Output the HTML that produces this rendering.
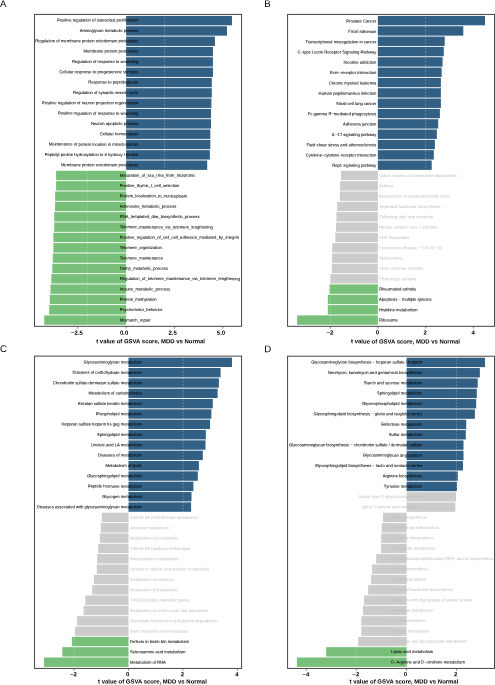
<!DOCTYPE html>
<html lang="en"><head><meta charset="utf-8"><title>GSVA bar plots</title>
<style>html,body{margin:0;padding:0;background:#fff}svg{display:block;font-family:"Liberation Sans",Arial,sans-serif}.l{font-size:4.17px;stroke-width:.05}.k{fill:#000;stroke:#000}.g{fill:#bebebe;stroke:none}.e{text-anchor:end}.t{font-size:6px;font-weight:bold;text-anchor:middle;fill:#000}.x{font-size:5.96px;font-weight:bold;fill:#000}.p{font-size:9.6px;fill:#000}.u{fill:#326085}.n{fill:#cccccc}.d{fill:#78c079}.k2{stroke:#4a4a4a;stroke-width:.7;fill:none}.f{fill:none;stroke:#3c3c3c;stroke-width:.95}.h{stroke:#fff;stroke-width:.5;stroke-dasharray:1.4 1.7;stroke-opacity:.6;fill:none}</style></head><body>
<svg width="495" height="685" viewBox="0 0 495 685">
<rect width="495" height="685" fill="#fff"/>
<g id="panel-A">
<rect class="u" x="126.10" y="15.90" width="105.86" height="9.40"/>
<rect class="u" x="126.10" y="26.23" width="100.87" height="9.40"/>
<rect class="u" x="126.10" y="36.55" width="88.80" height="9.40"/>
<rect class="u" x="126.10" y="46.88" width="86.86" height="9.40"/>
<rect class="u" x="126.10" y="57.21" width="86.86" height="9.40"/>
<rect class="u" x="126.10" y="67.54" width="86.86" height="9.40"/>
<rect class="u" x="126.10" y="77.86" width="85.70" height="9.40"/>
<rect class="u" x="126.10" y="88.19" width="85.70" height="9.40"/>
<rect class="u" x="126.10" y="98.52" width="85.30" height="9.40"/>
<rect class="u" x="126.10" y="108.85" width="84.90" height="9.40"/>
<rect class="u" x="126.10" y="119.18" width="84.90" height="9.40"/>
<rect class="u" x="126.10" y="129.50" width="84.20" height="9.40"/>
<rect class="u" x="126.10" y="139.83" width="84.20" height="9.40"/>
<rect class="u" x="126.10" y="150.16" width="83.80" height="9.40"/>
<rect class="u" x="126.10" y="160.49" width="81.10" height="9.40"/>
<rect class="d" x="56.10" y="170.81" width="70.00" height="9.40"/>
<rect class="d" x="56.10" y="181.14" width="70.00" height="9.40"/>
<rect class="d" x="55.10" y="191.47" width="71.00" height="9.40"/>
<rect class="d" x="55.10" y="201.80" width="71.00" height="9.40"/>
<rect class="d" x="54.20" y="212.13" width="71.90" height="9.40"/>
<rect class="d" x="54.20" y="222.45" width="71.90" height="9.40"/>
<rect class="d" x="53.40" y="232.78" width="72.70" height="9.40"/>
<rect class="d" x="53.40" y="243.11" width="72.70" height="9.40"/>
<rect class="d" x="52.80" y="253.44" width="73.30" height="9.40"/>
<rect class="d" x="52.30" y="263.77" width="73.80" height="9.40"/>
<rect class="d" x="51.30" y="274.09" width="74.80" height="9.40"/>
<rect class="d" x="50.50" y="284.42" width="75.60" height="9.40"/>
<rect class="d" x="49.80" y="294.75" width="76.30" height="9.40"/>
<rect class="d" x="49.20" y="305.08" width="76.90" height="9.40"/>
<rect class="d" x="44.20" y="315.40" width="81.90" height="9.40"/>
<line class="h" x1="87.30" y1="14.40" x2="87.30" y2="326.30"/>
<line class="h" x1="164.60" y1="14.40" x2="164.60" y2="326.30"/>
<g transform="matrix(1 .0005 0 1 0 -0.0690)">
<text class="l k e" x="138.30" y="21.60">Positive regulation of osteoclast proliferation</text>
<text class="l k e" x="138.30" y="31.94">Aminoglycan metabolic process</text>
<text class="l k e" x="138.30" y="42.28">Regulation of membrane protein ectodomain proteolysis</text>
<text class="l k e" x="138.30" y="52.62">Membrane protein proteolysis</text>
<text class="l k e" x="138.30" y="62.96">Regulation of response to wounding</text>
<text class="l k e" x="138.30" y="73.30">Cellular response to progesterone stimulus</text>
<text class="l k e" x="138.30" y="83.64">Response to peptidoglycan</text>
<text class="l k e" x="138.30" y="93.98">Regulation of synaptic vesicle cycle</text>
<text class="l k e" x="138.30" y="104.32">Positive regulation of neuron projection regeneration</text>
<text class="l k e" x="138.30" y="114.66">Positive regulation of response to wounding</text>
<text class="l k e" x="138.30" y="124.99">Neuron apoptotic process</text>
<text class="l k e" x="138.30" y="135.33">Cellular homeostasis</text>
<text class="l k e" x="138.30" y="145.67">Maintenance of protein location in mitochondrion</text>
<text class="l k e" x="138.30" y="156.01">Peptidyl proline hydroxylation to 4 hydroxy l proline</text>
<text class="l k e" x="138.30" y="166.35">Membrane protein ectodomain proteolysis</text>
<text class="l k" x="119.80" y="176.69">Maturation_of_ssu_rrna_from_tricistronic</text>
<text class="l k" x="119.80" y="187.03">Positive_thymic_t_cell_selection</text>
<text class="l k" x="119.80" y="197.37">Protein_localization_to_nucleoplasm</text>
<text class="l k" x="119.80" y="207.71">Adenosine_metabolic_process</text>
<text class="l k" x="119.80" y="218.05">RNA_templated_dna_biosynthetic_process</text>
<text class="l k" x="119.80" y="228.39">Telomere_maintenance_via_telomere_lengthening</text>
<text class="l k" x="119.80" y="238.73">Positive_regulation_of_cell_cell_adhesion_mediated_by_integrin</text>
<text class="l k" x="119.80" y="249.07">Telomere_organization</text>
<text class="l k" x="119.80" y="259.41">Telomere_maintenance</text>
<text class="l k" x="119.80" y="269.75">Damp_metabolic_process</text>
<text class="l k" x="119.80" y="280.09">Regulation_of_telomere_maintenance_via_telomere_lengthening</text>
<text class="l k" x="119.80" y="290.43">Inosine_metabolic_process</text>
<text class="l k" x="119.80" y="300.77">Protein_methylation</text>
<text class="l k" x="119.80" y="311.11">Psychomotor_behavior</text>
<text class="l k" x="119.80" y="321.45">Mismatch_repair</text>
</g>
<rect class="f" x="34.55" y="14.40" width="207.05" height="311.90"/>
<line class="k2" x1="77.80" y1="326.30" x2="77.80" y2="328.50"/>
<line class="k2" x1="126.20" y1="326.30" x2="126.20" y2="328.50"/>
<line class="k2" x1="174.40" y1="326.30" x2="174.40" y2="328.50"/>
<line class="k2" x1="222.70" y1="326.30" x2="222.70" y2="328.50"/>
<g transform="matrix(1 .0005 0 1 0 -0.0690)">
<text class="t" x="77.00" y="334.80">−2.5</text>
<text class="t" x="124.20" y="334.80">0.0</text>
<text class="t" x="172.70" y="334.80">2.5</text>
<text class="t" x="221.00" y="334.80">5.0</text>
<text class="x" x="96.20" y="343.30">t value of GSVA score, MDD vs Normal</text>
</g>
<text class="p" transform="matrix(1 .0005 0 1 0 0)" x="0.00" y="6.90">A</text>
</g>
<g id="panel-B">
<rect class="u" x="377.85" y="15.90" width="107.15" height="9.40"/>
<rect class="u" x="377.85" y="26.23" width="85.45" height="9.40"/>
<rect class="u" x="377.85" y="36.55" width="66.85" height="9.40"/>
<rect class="u" x="377.85" y="46.88" width="65.95" height="9.40"/>
<rect class="u" x="377.85" y="57.21" width="64.75" height="9.40"/>
<rect class="u" x="377.85" y="67.54" width="63.80" height="9.40"/>
<rect class="u" x="377.85" y="77.86" width="63.05" height="9.40"/>
<rect class="u" x="377.85" y="88.19" width="63.05" height="9.40"/>
<rect class="u" x="377.85" y="98.52" width="63.05" height="9.40"/>
<rect class="u" x="377.85" y="108.85" width="62.05" height="9.40"/>
<rect class="u" x="377.85" y="119.18" width="60.35" height="9.40"/>
<rect class="u" x="377.85" y="129.50" width="59.00" height="9.40"/>
<rect class="u" x="377.85" y="139.83" width="57.05" height="9.40"/>
<rect class="u" x="377.85" y="150.16" width="55.95" height="9.40"/>
<rect class="u" x="377.85" y="160.49" width="53.85" height="9.40"/>
<rect class="n" x="341.00" y="170.81" width="36.85" height="9.40"/>
<rect class="n" x="340.10" y="181.14" width="37.75" height="9.40"/>
<rect class="n" x="339.90" y="191.47" width="37.95" height="9.40"/>
<rect class="n" x="337.20" y="201.80" width="40.65" height="9.40"/>
<rect class="n" x="336.40" y="212.13" width="41.45" height="9.40"/>
<rect class="n" x="336.05" y="222.45" width="41.80" height="9.40"/>
<rect class="n" x="335.30" y="232.78" width="42.55" height="9.40"/>
<rect class="n" x="332.20" y="243.11" width="45.65" height="9.40"/>
<rect class="n" x="332.00" y="253.44" width="45.85" height="9.40"/>
<rect class="n" x="331.80" y="263.77" width="46.05" height="9.40"/>
<rect class="n" x="330.30" y="274.09" width="47.55" height="9.40"/>
<rect class="d" x="329.50" y="284.42" width="48.35" height="9.40"/>
<rect class="d" x="327.80" y="294.75" width="50.05" height="9.40"/>
<rect class="d" x="327.80" y="305.08" width="50.05" height="9.40"/>
<rect class="d" x="297.10" y="315.40" width="80.75" height="9.40"/>
<line class="h" x1="330.30" y1="14.40" x2="330.30" y2="326.30"/>
<line class="h" x1="425.60" y1="14.40" x2="425.60" y2="326.30"/>
<g transform="matrix(1 .0005 0 1 0 -0.1955)">
<text class="l k e" x="376.40" y="22.60">Prostate Cancer</text>
<text class="l k e" x="376.40" y="32.90">Focal adhesion</text>
<text class="l k e" x="376.40" y="43.20">Transcriptional misregulation in cancer</text>
<text class="l k e" x="376.40" y="53.51">C−type Lectin Receptor Signaling Pathway</text>
<text class="l k e" x="376.40" y="63.81">Nicotine addiction</text>
<text class="l k e" x="376.40" y="74.11">Ecm−receptor interaction</text>
<text class="l k e" x="376.40" y="84.41">Chronic myeloid leukemia</text>
<text class="l k e" x="376.40" y="94.72">Human papillomavirus infection</text>
<text class="l k e" x="376.40" y="105.02">Small cell lung cancer</text>
<text class="l k e" x="376.40" y="115.32">Fc gamma R−mediated phagocytosis</text>
<text class="l k e" x="376.40" y="125.62">Adherens junction</text>
<text class="l k e" x="376.40" y="135.93">IL−17 signaling pathway</text>
<text class="l k e" x="376.40" y="146.23">Fluid shear stress and atherosclerosis</text>
<text class="l k e" x="376.40" y="156.53">Cytokine−cytokine receptor interaction</text>
<text class="l k e" x="376.40" y="166.84">Rap1 signaling pathway</text>
<text class="l g" x="379.00" y="176.91">Valine, leucine and isoleucine degradation</text>
<text class="l g" x="379.00" y="187.24">Asthma</text>
<text class="l g" x="379.00" y="197.57">Biosynthesis of unsaturated fatty acids</text>
<text class="l g" x="379.00" y="207.90">Terpenoid backbone biosynthesis</text>
<text class="l g" x="379.00" y="218.23">Collecting duct acid secretion</text>
<text class="l g" x="379.00" y="228.55">Herpes simplex virus 1 infection</text>
<text class="l g" x="379.00" y="238.88">Viral myocarditis</text>
<text class="l g" x="379.00" y="249.21">Coronavirus disease − COVID−19</text>
<text class="l g" x="379.00" y="259.54">Spliceosome</text>
<text class="l g" x="379.00" y="269.86">Vibrio cholerae infection</text>
<text class="l g" x="379.00" y="280.19">Cholinergic synapse</text>
<text class="l k" x="379.00" y="290.52">Rheumatoid arthritis</text>
<text class="l k" x="379.00" y="300.85">Apoptosis − multiple species</text>
<text class="l k" x="379.00" y="311.18">Histidine metabolism</text>
<text class="l k" x="379.00" y="321.50">Ribosome</text>
</g>
<rect class="f" x="287.60" y="14.40" width="206.95" height="311.90"/>
<line class="k2" x1="330.30" y1="326.30" x2="330.30" y2="328.50"/>
<line class="k2" x1="378.00" y1="326.30" x2="378.00" y2="328.50"/>
<line class="k2" x1="425.70" y1="326.30" x2="425.70" y2="328.50"/>
<line class="k2" x1="473.40" y1="326.30" x2="473.40" y2="328.50"/>
<g transform="matrix(1 .0005 0 1 0 -0.1955)">
<text class="t" x="329.90" y="334.50">−2</text>
<text class="t" x="377.50" y="334.50">0</text>
<text class="t" x="425.30" y="334.50">2</text>
<text class="t" x="473.10" y="334.50">4</text>
<text class="x" x="351.10" y="343.40">t value of GSVA score, MDD vs Normal</text>
</g>
<text class="p" transform="matrix(1 .0005 0 1 0 0)" x="264.20" y="6.90">B</text>
</g>
<g id="panel-C">
<rect class="u" x="128.50" y="357.60" width="103.46" height="9.41"/>
<rect class="u" x="128.50" y="367.94" width="92.10" height="9.41"/>
<rect class="u" x="128.50" y="378.28" width="90.40" height="9.41"/>
<rect class="u" x="128.50" y="388.62" width="89.10" height="9.41"/>
<rect class="u" x="128.50" y="398.96" width="84.30" height="9.41"/>
<rect class="u" x="128.50" y="409.30" width="82.90" height="9.41"/>
<rect class="u" x="128.50" y="419.65" width="81.50" height="9.41"/>
<rect class="u" x="128.50" y="429.99" width="77.35" height="9.41"/>
<rect class="u" x="128.50" y="440.33" width="77.00" height="9.41"/>
<rect class="u" x="128.50" y="450.67" width="74.30" height="9.41"/>
<rect class="u" x="128.50" y="461.01" width="70.40" height="9.41"/>
<rect class="u" x="128.50" y="471.35" width="69.30" height="9.41"/>
<rect class="u" x="128.50" y="481.69" width="64.90" height="9.41"/>
<rect class="u" x="128.50" y="492.03" width="63.00" height="9.41"/>
<rect class="u" x="128.50" y="502.37" width="62.60" height="9.41"/>
<rect class="n" x="101.80" y="512.72" width="26.70" height="9.41"/>
<rect class="n" x="100.80" y="523.06" width="27.70" height="9.41"/>
<rect class="n" x="99.90" y="533.40" width="28.60" height="9.41"/>
<rect class="n" x="98.20" y="543.74" width="30.30" height="9.41"/>
<rect class="n" x="97.20" y="554.08" width="31.30" height="9.41"/>
<rect class="n" x="96.80" y="564.42" width="31.70" height="9.41"/>
<rect class="n" x="93.90" y="574.76" width="34.60" height="9.41"/>
<rect class="n" x="92.20" y="585.10" width="36.30" height="9.41"/>
<rect class="n" x="85.30" y="595.44" width="43.20" height="9.41"/>
<rect class="n" x="83.60" y="605.78" width="44.90" height="9.41"/>
<rect class="n" x="77.00" y="616.13" width="51.50" height="9.41"/>
<rect class="n" x="75.10" y="626.47" width="53.40" height="9.41"/>
<rect class="d" x="71.90" y="636.81" width="56.60" height="9.41"/>
<rect class="d" x="62.30" y="647.15" width="66.20" height="9.41"/>
<rect class="d" x="44.00" y="657.49" width="84.50" height="9.41"/>
<line class="h" x1="73.90" y1="356.10" x2="73.90" y2="668.40"/>
<line class="h" x1="183.10" y1="356.10" x2="183.10" y2="668.40"/>
<g transform="matrix(1 .0005 0 1 0 -0.0690)">
<text class="l k e" x="142.00" y="363.55">Glycosaminoglycan metabolism</text>
<text class="l k e" x="142.00" y="373.90">Diseases of carbohydrate metabolism</text>
<text class="l k e" x="142.00" y="384.24">Chondroitin sulfate dermatan sulfate metabolism</text>
<text class="l k e" x="142.00" y="394.58">Metabolism of carbohydrates</text>
<text class="l k e" x="142.00" y="404.92">Keratan sulfate keratin metabolism</text>
<text class="l k e" x="142.00" y="415.26">Phospholipid metabolism</text>
<text class="l k e" x="142.00" y="425.60">Heparan sulfate heparin hs gag metabolism</text>
<text class="l k e" x="142.00" y="435.94">Sphingolipid metabolism</text>
<text class="l k e" x="142.00" y="446.28">Linoleic acid LA metabolism</text>
<text class="l k e" x="142.00" y="456.62">Diseases of metabolism</text>
<text class="l k e" x="142.00" y="466.97">Metabolism of lipids</text>
<text class="l k e" x="142.00" y="477.31">Glycosphingolipid metabolism</text>
<text class="l k e" x="142.00" y="487.65">Peptide hormone metabolism</text>
<text class="l k e" x="142.00" y="497.99">Glycogen metabolism</text>
<text class="l k e" x="142.00" y="508.33">Diseases associated with glycosaminoglycan metabolism</text>
<text class="l g" x="130.10" y="518.87">Vitamin B5 pantothenate metabolism</text>
<text class="l g" x="130.10" y="529.21">Abacavir metabolism</text>
<text class="l g" x="130.10" y="539.55">Metabolism of nucleotides</text>
<text class="l g" x="130.10" y="549.89">Vitamin B2 riboflavin metabolism</text>
<text class="l g" x="130.10" y="560.23">Phenylalanine metabolism</text>
<text class="l g" x="130.10" y="570.58">Defects in vitamin and cofactor metabolism</text>
<text class="l g" x="130.10" y="580.92">Metabolism of cofactors</text>
<text class="l g" x="130.10" y="591.26">Metabolism of polyamines</text>
<text class="l g" x="130.10" y="601.60">TP53 regulates metabolic genes</text>
<text class="l g" x="130.10" y="611.94">Metabolism of amino acids and derivatives</text>
<text class="l g" x="130.10" y="622.28">Glyoxylate metabolism and glycine degradation</text>
<text class="l g" x="130.10" y="632.62">Biotin transport and metabolism</text>
<text class="l k" x="130.10" y="642.96">Defects in biotin btn metabolism</text>
<text class="l k" x="130.10" y="653.30">Selenoamino acid metabolism</text>
<text class="l k" x="130.10" y="663.65">Metabolism of RNA</text>
</g>
<rect class="f" x="34.55" y="356.10" width="207.05" height="312.30"/>
<line class="k2" x1="73.90" y1="668.40" x2="73.90" y2="670.60"/>
<line class="k2" x1="128.40" y1="668.40" x2="128.40" y2="670.60"/>
<line class="k2" x1="182.90" y1="668.40" x2="182.90" y2="670.60"/>
<line class="k2" x1="237.40" y1="668.40" x2="237.40" y2="670.60"/>
<g transform="matrix(1 .0005 0 1 0 -0.0690)">
<text class="t" x="73.40" y="676.20">−2</text>
<text class="t" x="127.80" y="676.20">0</text>
<text class="t" x="182.50" y="676.20">2</text>
<text class="t" x="237.00" y="676.20">4</text>
<text class="x" x="98.00" y="683.50">t value of GSVA score, MDD vs Normal</text>
</g>
<text class="p" transform="matrix(1 .0005 0 1 0 0)" x="0.10" y="351.90">C</text>
</g>
<g id="panel-D">
<rect class="u" x="406.65" y="357.70" width="78.35" height="9.41"/>
<rect class="u" x="406.65" y="368.04" width="73.20" height="9.41"/>
<rect class="u" x="406.65" y="378.37" width="71.05" height="9.41"/>
<rect class="u" x="406.65" y="388.71" width="70.15" height="9.41"/>
<rect class="u" x="406.65" y="399.05" width="69.55" height="9.41"/>
<rect class="u" x="406.65" y="409.39" width="68.25" height="9.41"/>
<rect class="u" x="406.65" y="419.73" width="59.55" height="9.41"/>
<rect class="u" x="406.65" y="430.06" width="59.15" height="9.41"/>
<rect class="u" x="406.65" y="440.40" width="56.85" height="9.41"/>
<rect class="u" x="406.65" y="450.74" width="56.85" height="9.41"/>
<rect class="u" x="406.65" y="461.08" width="56.35" height="9.41"/>
<rect class="u" x="406.65" y="471.41" width="51.15" height="9.41"/>
<rect class="u" x="406.65" y="481.75" width="50.35" height="9.41"/>
<rect class="n" x="406.65" y="492.09" width="49.35" height="9.41"/>
<rect class="n" x="406.65" y="502.43" width="48.65" height="9.41"/>
<rect class="n" x="383.00" y="512.77" width="23.65" height="9.41"/>
<rect class="n" x="381.70" y="523.10" width="24.95" height="9.41"/>
<rect class="n" x="381.20" y="533.44" width="25.45" height="9.41"/>
<rect class="n" x="381.00" y="543.78" width="25.65" height="9.41"/>
<rect class="n" x="376.20" y="554.12" width="30.45" height="9.41"/>
<rect class="n" x="372.10" y="564.45" width="34.55" height="9.41"/>
<rect class="n" x="371.10" y="574.79" width="35.55" height="9.41"/>
<rect class="n" x="368.10" y="585.13" width="38.55" height="9.41"/>
<rect class="n" x="364.00" y="595.47" width="42.65" height="9.41"/>
<rect class="n" x="363.00" y="605.80" width="43.65" height="9.41"/>
<rect class="n" x="361.30" y="616.14" width="45.35" height="9.41"/>
<rect class="n" x="361.30" y="626.48" width="45.35" height="9.41"/>
<rect class="n" x="358.20" y="636.82" width="48.45" height="9.41"/>
<rect class="d" x="326.20" y="647.16" width="80.45" height="9.41"/>
<rect class="d" x="296.90" y="657.49" width="109.75" height="9.41"/>
<line class="h" x1="356.40" y1="356.20" x2="356.40" y2="668.40"/>
<line class="h" x1="456.40" y1="356.20" x2="456.40" y2="668.40"/>
<g transform="matrix(1 .0005 0 1 0 -0.1955)">
<text class="l k e" x="422.00" y="363.60">Glycosaminoglycan biosynthesis − heparan sulfate / heparin</text>
<text class="l k e" x="422.00" y="373.94">Neomycin, kanamycin and gentamicin biosynthesis</text>
<text class="l k e" x="422.00" y="384.28">Starch and sucrose metabolism</text>
<text class="l k e" x="422.00" y="394.62">Sphingolipid metabolism</text>
<text class="l k e" x="422.00" y="404.95">Glycerophospholipid metabolism</text>
<text class="l k e" x="422.00" y="415.29">Glycosphingolipid biosynthesis − globo and isoglobo series</text>
<text class="l k e" x="422.00" y="425.63">Galactose metabolism</text>
<text class="l k e" x="422.00" y="435.97">Sulfur metabolism</text>
<text class="l k e" x="422.00" y="446.30">Glycosaminoglycan biosynthesis − chondroitin sulfate / dermatan sulfate</text>
<text class="l k e" x="422.00" y="456.64">Glycosaminoglycan degradation</text>
<text class="l k e" x="422.00" y="466.98">Glycosphingolipid biosynthesis − lacto and neolacto series</text>
<text class="l k e" x="422.00" y="477.32">Arginine biosynthesis</text>
<text class="l k e" x="422.00" y="487.66">Tyrosine metabolism</text>
<text class="l g e" x="422.00" y="497.99">Mucin type O−glycan biosynthesis</text>
<text class="l g e" x="422.00" y="508.33">alpha−Linolenic acid metabolism</text>
<text class="l g" x="391.20" y="518.67">Folate biosynthesis</text>
<text class="l g" x="391.20" y="529.01">Oxidative phosphorylation</text>
<text class="l g" x="391.20" y="539.34">N−Glycan biosynthesis</text>
<text class="l g" x="391.20" y="549.68">Propanoate metabolism</text>
<text class="l g" x="391.20" y="560.02">Glycosylphosphatidylinositol (GPI)−anchor biosynthesis</text>
<text class="l g" x="391.20" y="570.36">Steroid biosynthesis</text>
<text class="l g" x="391.20" y="580.70">Lysine degradation</text>
<text class="l g" x="391.20" y="591.03">Terpenoid backbone biosynthesis</text>
<text class="l g" x="391.20" y="601.37">Synthesis and degradation of ketone bodies</text>
<text class="l g" x="391.20" y="611.71">Pyrimidine metabolism</text>
<text class="l g" x="391.20" y="622.05">Purine metabolism</text>
<text class="l g" x="391.20" y="632.38">Caffeine metabolism</text>
<text class="l g" x="391.20" y="642.72">Glyoxylate and dicarboxylate metabolism</text>
<text class="l k" x="391.20" y="653.06">Lipoic acid metabolism</text>
<text class="l k" x="391.20" y="663.40">D−Arginine and D−ornithine metabolism</text>
</g>
<rect class="f" x="287.60" y="356.20" width="206.95" height="312.20"/>
<line class="k2" x1="306.40" y1="668.40" x2="306.40" y2="670.60"/>
<line class="k2" x1="356.40" y1="668.40" x2="356.40" y2="670.60"/>
<line class="k2" x1="406.50" y1="668.40" x2="406.50" y2="670.60"/>
<line class="k2" x1="456.50" y1="668.40" x2="456.50" y2="670.60"/>
<g transform="matrix(1 .0005 0 1 0 -0.1955)">
<text class="t" x="305.80" y="676.20">−4</text>
<text class="t" x="355.80" y="676.20">−2</text>
<text class="t" x="405.40" y="676.20">0</text>
<text class="t" x="455.60" y="676.20">2</text>
<text class="x" x="349.50" y="683.50">t value of GSVA score, MDD vs Normal</text>
</g>
<text class="p" transform="matrix(1 .0005 0 1 0 0)" x="264.20" y="352.00">D</text>
</g>
</svg></body></html>
